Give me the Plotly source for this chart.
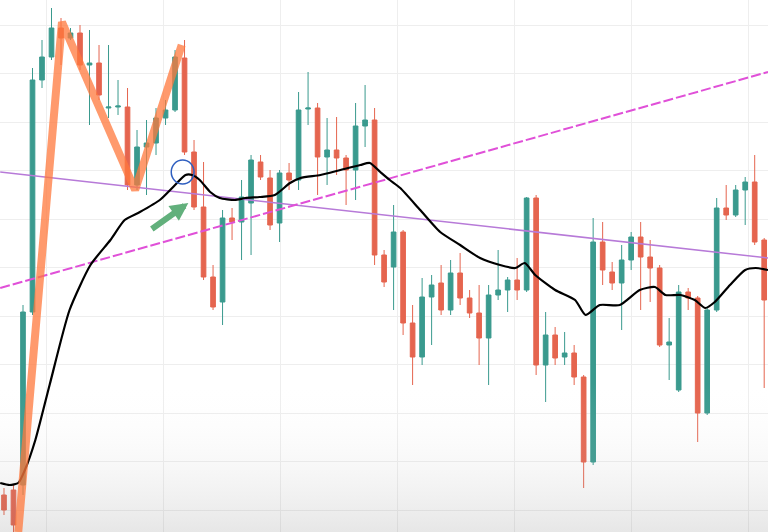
import plotly.graph_objects as go

TOP = 532
open_px = [495, 490, 485, 312, 80, 57, 28, 38, 33, 65, 63, 108, 107, 107, 185, 147, 143, 118, 110, 58,
           152, 207, 277, 302, 218, 222, 203, 162, 178, 223, 173, 180, 109, 108, 157, 150, 158, 170, 126, 120,
           255, 267, 232, 323, 357, 297, 283, 310, 273, 298, 313, 338, 295, 290, 280, 290, 198, 365, 335, 357,
           353, 377, 462, 242, 272, 283, 260, 237, 257, 268, 345, 390, 292, 298, 413, 310, 208, 215, 190, 182, 240]
close_px = [510, 525, 312, 80, 57, 28, 38, 33, 65, 63, 95, 107, 106, 185, 147, 143, 118, 110, 57, 152,
            207, 277, 307, 218, 222, 197, 160, 177, 225, 173, 180, 110, 108, 157, 150, 158, 170, 126, 120, 255,
            282, 232, 323, 357, 297, 285, 310, 273, 298, 313, 338, 295, 290, 280, 290, 198, 365, 335, 358, 353,
            377, 462, 242, 270, 283, 260, 237, 257, 268, 345, 342, 292, 298, 413, 310, 208, 215, 190, 182, 242, 300]
high_px = [488, 485, 305, 68, 40, 8, 18, 28, 25, 30, 45, 45, 80, 88, 130, 120, 108, 100, 50, 40,
           140, 162, 265, 210, 208, 180, 155, 155, 170, 170, 163, 92, 72, 103, 118, 117, 155, 103, 85, 108,
           250, 205, 230, 305, 278, 275, 265, 260, 253, 290, 285, 285, 250, 277, 258, 197, 195, 312, 327, 332,
           345, 375, 218, 222, 262, 245, 232, 222, 240, 265, 318, 285, 288, 296, 308, 198, 185, 185, 177, 155, 238]
low_px = [515, 532, 495, 315, 88, 60, 65, 40, 70, 125, 100, 118, 115, 190, 190, 195, 155, 125, 112, 155,
          210, 280, 310, 325, 240, 260, 255, 180, 230, 242, 190, 190, 125, 195, 185, 175, 205, 200, 147, 265,
          287, 310, 335, 385, 365, 345, 315, 315, 305, 318, 365, 385, 300, 312, 300, 292, 375, 402, 365, 365,
          385, 488, 465, 285, 290, 330, 270, 310, 302, 347, 380, 392, 310, 442, 415, 312, 220, 217, 225, 245, 388]

# moving average (bar index, pixel from top)
ma_idx = [-0.4, 0.6, 1.5, 2.2, 3.3, 4.8, 6.9, 9.1, 11.2, 12.7, 14.3, 16.4, 18, 19.1, 19.8, 20.6, 21.7,
          22.7, 24.3, 25.4, 26.9, 28.5, 30.1, 31.2, 33.3, 35.4, 37.5, 38.5, 39.6, 40.6, 41.7, 43.8, 45.9,
          48, 50.1, 52.2, 53.8, 54.8, 55.9, 58, 60.1, 61.2, 62.7, 64.8, 66.9, 68.5, 69.6, 71.2, 72.7, 73.8,
          74.8, 76.4, 78, 79.1, 80.4]
ma_px = [483, 485, 483, 470, 440, 385, 310, 265, 240, 220, 212, 200, 185, 175, 175, 180, 192,
         198, 200, 198, 197, 195, 183, 178, 175, 170, 165, 163, 172, 180, 188, 210, 232,
         245, 258, 265, 268, 263, 275, 290, 300, 315, 305, 305, 290, 287, 295, 295, 300, 308,
         302, 285, 270, 268, 270]

# drawn pattern (M shape)
m_idx = [1.5, 6.1, 13.8, 18.7]
m_px = [532, 22, 190, 45]

p = lambda v: [TOP - x for x in v]
n = len(open_px)
x = list(range(n))

fig = go.Figure()

# grey fade at the bottom
fig.add_trace(go.Scatter(
    x=[-1, 82, 82, -1], y=[150, 150, 0, 0], fill='toself', mode='none',
    fillgradient=dict(type='vertical', colorscale=[[0, 'rgba(120,120,120,0.18)'], [1, 'rgba(255,255,255,0)']]),
    hoverinfo='skip'))

fig.add_trace(go.Candlestick(
    x=x, open=p(open_px), high=p(high_px), low=p(low_px), close=p(close_px),
    increasing=dict(line=dict(color='#3a9a8e', width=1), fillcolor='#3a9a8e'),
    decreasing=dict(line=dict(color='#e5654f', width=1), fillcolor='#e5654f'),
    whiskerwidth=0))

fig.add_trace(go.Scatter(x=[-0.4, 80.4], y=[TOP - 172, TOP - 258], mode='lines',
                         line=dict(color='#b77ad8', width=1.5)))
fig.add_trace(go.Scatter(x=[-0.4, 80.4], y=[TOP - 288, TOP - 72], mode='lines',
                         line=dict(color='#e050d8', width=2, dash='10px,3px')))
fig.add_trace(go.Scatter(x=ma_idx, y=p(ma_px), mode='lines',
                         line=dict(color='black', width=2.2, shape='spline', smoothing=0.6)))
fig.add_trace(go.Scatter(x=m_idx, y=p(m_px), mode='lines',
                         line=dict(color='rgba(255,120,60,0.75)', width=8)))

fig.add_shape(type='circle', xref='x', yref='y', x0=17.6, x1=20.0, y0=TOP - 184, y1=TOP - 160,
              line=dict(color='#2f5fc0', width=1.5))
fig.add_annotation(x=19.4, y=TOP - 203, ax=15.4, ay=TOP - 230, axref='x', ayref='y',
                   showarrow=True, arrowhead=2, arrowsize=0.6, arrowwidth=6,
                   arrowcolor='#62b07c', text='')

fig.update_layout(
    width=768, height=532, margin=dict(l=0, r=0, t=0, b=0),
    paper_bgcolor='white', plot_bgcolor='white', showlegend=False,
    xaxis=dict(range=[-0.42, 80.4], rangeslider=dict(visible=False), showticklabels=False,
               showgrid=True, gridcolor='#eeeeee', tick0=4.5, dtick=12.3, zeroline=False),
    yaxis=dict(range=[0, TOP], showticklabels=False, showgrid=True, gridcolor='#eeeeee',
               tick0=507, dtick=48.5, zeroline=False),
)

fig.write_html("out.html", config={'displayModeBar': False},
               post_script="document.body.style.margin='0';")
